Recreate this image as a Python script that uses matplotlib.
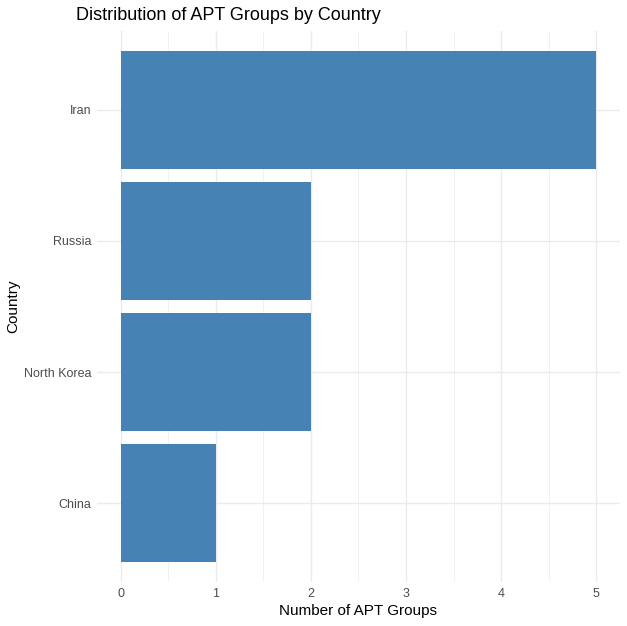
import matplotlib.pyplot as plt
import numpy as np

plt.rcParams['font.family'] = ['Liberation Sans', 'DejaVu Sans']

countries = ['China', 'North Korea', 'Russia', 'Iran']
counts = [1, 2, 2, 5]

fig = plt.figure(figsize=(6.27, 6.26), dpi=100)
ax = fig.add_axes([0.1547, 0.0703, 0.8341, 0.8802])

y = np.arange(len(countries))
ax.barh(y, counts, height=0.9, color='#4682B4', zorder=3)

ax.set_xlim(-0.25, 5.25)
ax.set_ylim(-0.6, len(countries) - 1 + 0.6)
ax.set_xticks(range(6))
ax.set_xticks(np.arange(0.5, 5.5, 1), minor=True)
ax.set_yticks(y)
ax.set_yticklabels(countries)

ax.grid(True, which='major', color='#EBEBEB', linewidth=1.0, zorder=0)
ax.grid(True, which='minor', axis='x', color='#EBEBEB', linewidth=0.5, zorder=0)
for s in ax.spines.values():
    s.set_visible(False)
ax.tick_params(which='both', length=0, colors='#4D4D4D', labelsize=9, pad=4)

ax.set_xlabel('Number of APT Groups', fontsize=11, labelpad=3)
ax.set_ylabel('Country', fontsize=11, labelpad=3)
ax.set_title('Distribution of APT Groups by Country', fontsize=13, loc='left',
             x=-0.04, pad=8)

fig.savefig('out.png', dpi=100)
